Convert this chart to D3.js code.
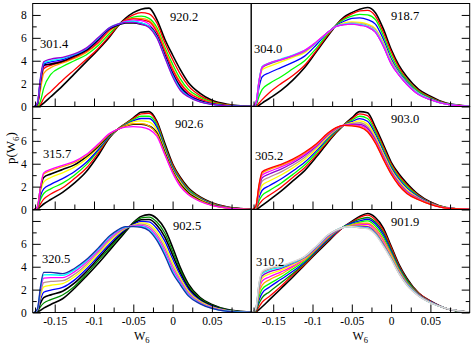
<!DOCTYPE html>
<html>
<head>
<meta charset="utf-8">
<script src="https://cdn.jsdelivr.net/npm/d3@7"></script>
<style>
  body { margin: 0; background: #fff; }
  svg { display: block; }
  text { font-family: "Liberation Serif", "Times New Roman", serif; fill: #000; }
</style>
</head>
<body>
<svg id="chart" width="474" height="345"></svg>
<script>
// W6 sample points shared by every curve
const W6 = [-0.176, -0.172, -0.168, -0.164, -0.155, -0.14, -0.125, -0.11, -0.095, -0.08, -0.07, -0.06,
            -0.05, -0.04, -0.03, -0.02, -0.01, 0, 0.01, 0.02, 0.035, 0.05, 0.07, 0.1];

const xMajor = [-0.15, -0.1, -0.05, 0, 0.05];
const xMajorLabels = ["-0.15", "-0.1", "-0.05", "0", "0.05"];
const xMinor = [-0.175, -0.125, -0.075, -0.025, 0.025, 0.075];
const yMajor = [0, 2, 4, 6, 8];
const yMinor = [1, 3, 5, 7];

// panel texts: [left label, right label]
const P1_TEXT = ["301.4", "920.2"];
const P2_TEXT = ["304.0", "918.7"];
const P3_TEXT = ["315.7", "902.6"];
const P4_TEXT = ["305.2", "903.0"];
const P5_TEXT = ["320.5", "902.5"];
const P6_TEXT = ["310.2", "901.9"];

// p(W6) curves, one row per set
const P1_VALUES = [
  [0,0,0.1,0.3,0.85,1.8,2.85,3.9,4.95,6.1,7.0,7.7,8.2,8.5,8.6,7.6,5.9,4.5,3.2,2.1,1.15,0.55,0.2,0.02],
  [0,0,0.2,0.7,1.3,2.3,3.2,4.1,5.05,6.2,7.0,7.6,8.0,8.2,8.1,7.3,5.6,4.1,2.8,1.8,0.95,0.45,0.15,0.01],
  [0,0,0.5,1.6,2.8,3.5,4.0,4.5,5.3,6.4,7.05,7.5,7.8,7.9,7.7,6.9,5.2,3.7,2.4,1.5,0.8,0.38,0.12,0.01],
  [0,0.1,1.5,2.9,3.4,3.8,4.2,4.7,5.5,6.6,7.1,7.5,7.7,7.7,7.5,6.7,5.0,3.4,2.1,1.3,0.7,0.32,0.1,0],
  [0,0.15,2.0,3.3,3.6,3.9,4.3,4.8,5.6,6.7,7.1,7.5,7.65,7.6,7.4,6.5,4.8,3.2,2.0,1.2,0.65,0.3,0.09,0],
  [0,0.2,2.2,3.5,3.75,4.0,4.4,4.9,5.7,6.8,7.15,7.45,7.55,7.5,7.2,6.3,4.6,3.0,1.8,1.1,0.55,0.25,0.07,0],
  [0,0.2,2.3,3.6,3.7,3.95,4.4,4.9,5.8,6.8,7.1,7.3,7.3,7.2,7.0,6.2,4.5,2.9,1.7,1.0,0.5,0.22,0.06,0],
  [0,0.25,2.4,3.7,3.9,4.1,4.5,5.0,5.9,6.85,7.15,7.35,7.4,7.3,7.0,6.1,4.4,2.8,1.55,0.95,0.45,0.2,0.05,0],
  [0,0.3,2.5,3.8,4.0,4.2,4.55,5.05,5.95,6.9,7.2,7.4,7.45,7.3,7.0,6.1,4.35,2.7,1.5,0.9,0.42,0.18,0.05,0],
  [0,0.3,2.6,3.9,4.15,4.3,4.6,5.1,6.0,6.9,7.2,7.35,7.35,7.2,6.9,6.0,4.3,2.6,1.4,0.85,0.4,0.18,0.05,0]
];
const P1_COLORS = ["#000000", "#ff0000", "#00ff00", "#ffa500", "#ff0000", "#ff00ff", "#000000", "#0000ff", "#00ffff", "#9400d3"];

const P2_VALUES = [
  [0,0,0.1,0.3,0.7,1.4,2.3,3.4,4.8,6.2,7.1,7.8,8.2,8.5,8.65,8.2,6.8,5.0,3.6,2.6,1.5,0.9,0.3,0.02],
  [0,0.05,0.3,0.6,1.2,2.0,2.7,3.6,4.9,6.3,7.1,7.7,8.1,8.35,8.4,7.9,6.5,4.8,3.4,2.4,1.4,0.8,0.27,0.02],
  [0,0.1,0.9,1.5,2.0,2.6,3.3,4.0,5.1,6.4,7.1,7.6,7.9,8.05,8.0,7.6,6.2,4.5,3.2,2.3,1.3,0.75,0.25,0.01],
  [0,0.15,1.7,2.6,2.95,3.4,3.85,4.4,5.4,6.5,7.05,7.45,7.7,7.75,7.6,7.2,5.9,4.2,3.0,2.15,1.2,0.7,0.23,0.01],
  [0,0.25,2.1,3.2,3.5,3.9,4.3,4.7,5.6,6.5,7.0,7.3,7.4,7.35,7.2,6.8,5.6,4.0,2.9,2.05,1.15,0.65,0.21,0.01],
  [0,0.3,2.2,3.4,3.7,4.05,4.4,4.8,5.6,6.5,7.0,7.2,7.3,7.25,7.1,6.7,5.5,3.9,2.85,2.0,1.1,0.62,0.2,0.01],
  [0,0.3,2.3,3.5,3.8,4.1,4.45,4.85,5.65,6.5,7.0,7.2,7.25,7.2,7.0,6.6,5.4,3.8,2.8,2.0,1.1,0.6,0.2,0.01],
  [0,0.3,2.2,3.4,3.75,4.1,4.45,4.85,5.6,6.5,7.0,7.15,7.2,7.15,6.95,6.5,5.3,3.75,2.75,1.95,1.05,0.6,0.2,0.01],
  [0,0.3,2.3,3.5,3.8,4.15,4.5,4.9,5.6,6.5,7.0,7.2,7.25,7.15,7.0,6.55,5.35,3.8,2.8,2.0,1.1,0.6,0.2,0.01],
  [0,0.3,2.25,3.45,3.8,4.1,4.45,4.9,5.65,6.5,7.0,7.15,7.2,7.1,6.95,6.5,5.3,3.75,2.75,1.95,1.05,0.6,0.2,0.01]
];
const P2_COLORS = ["#000000", "#ff0000", "#00ff00", "#0000ff", "#ffff00", "#bc8f8f", "#dcdcdc", "#9400d3", "#00ffff", "#ff00ff"];

const P3_VALUES = [
  [0,0.05,0.25,0.48,0.87,1.5,2.3,3.3,4.7,6.3,7.0,7.5,8.0,8.5,8.55,7.7,5.8,4.0,2.8,1.9,1.1,0.6,0.22,0.02],
  [0,0.05,0.5,0.9,1.35,1.9,2.7,3.6,4.9,6.35,7.0,7.5,7.95,8.35,8.4,7.6,5.6,3.9,2.7,1.8,1.05,0.55,0.2,0.02],
  [0,0.1,0.9,1.4,1.8,2.3,3.0,3.9,5.1,6.4,7.0,7.45,7.85,8.15,8.15,7.4,5.5,3.75,2.6,1.75,1.0,0.52,0.19,0.02],
  [0,0.1,1.2,1.8,2.2,2.7,3.3,4.1,5.2,6.45,7.0,7.4,7.75,7.95,7.95,7.2,5.35,3.65,2.5,1.65,0.95,0.5,0.18,0.01],
  [0,0.15,1.6,2.4,2.8,3.2,3.7,4.4,5.4,6.5,7.0,7.35,7.65,7.75,7.65,6.95,5.2,3.5,2.4,1.55,0.9,0.45,0.16,0.01],
  [0,0.2,1.9,2.8,3.1,3.5,3.9,4.6,5.5,6.55,7.0,7.3,7.45,7.45,7.3,6.7,5.0,3.35,2.2,1.45,0.8,0.4,0.14,0.01],
  [0,0.2,2.0,3.1,3.4,3.75,4.1,4.7,5.6,6.6,7.0,7.3,7.5,7.5,7.3,6.6,4.9,3.3,2.1,1.35,0.75,0.37,0.13,0.01],
  [0,0.2,2.0,3.2,3.5,3.85,4.2,4.8,5.7,6.65,7.0,7.2,7.25,7.2,7.0,6.4,4.8,3.2,2.0,1.3,0.7,0.35,0.12,0.01]
];
const P3_COLORS = ["#000000", "#ff0000", "#00ff00", "#0000ff", "#ffff00", "#000000", "#ffa500", "#ff00ff"];

const P4_VALUES = [
  [0,0.02,0.15,0.36,0.82,1.6,2.5,3.4,4.6,5.9,6.7,7.4,8.0,8.55,8.45,7.2,5.7,4.15,3.1,2.3,1.3,0.65,0.18,0.01],
  [0,0.06,0.46,0.8,1.24,1.95,2.8,3.65,4.77,6.0,6.77,7.4,7.9,8.35,8.2,7.0,5.5,4.0,2.95,2.15,1.23,0.62,0.17,0.01],
  [0,0.1,0.77,1.24,1.65,2.3,3.07,3.88,4.95,6.14,6.84,7.38,7.79,8.15,7.95,6.78,5.31,3.83,2.8,2.03,1.16,0.59,0.16,0.01],
  [0,0.15,1.07,1.68,2.07,2.66,3.36,4.12,5.12,6.26,6.9,7.38,7.68,7.94,7.71,6.57,5.11,3.68,2.65,1.89,1.1,0.56,0.15,0.01],
  [0,0.19,1.38,2.12,2.49,3.01,3.64,4.36,5.29,6.38,6.97,7.37,7.58,7.74,7.46,6.36,4.92,3.52,2.5,1.76,1.03,0.53,0.14,0.01],
  [0,0.22,1.63,2.48,2.82,3.29,3.87,4.55,5.43,6.48,7.02,7.36,7.5,7.58,7.26,6.19,4.76,3.39,2.38,1.65,0.98,0.51,0.14,0.01],
  [0,0.25,1.83,2.77,3.1,3.53,4.06,4.71,5.54,6.56,7.07,7.36,7.43,7.44,7.1,6.05,4.63,3.29,2.28,1.56,0.93,0.49,0.13,0.01],
  [0,0.27,2.0,3.01,3.32,3.72,4.21,4.84,5.64,6.62,7.11,7.36,7.37,7.33,6.96,5.94,4.53,3.2,2.2,1.49,0.89,0.47,0.13,0.01],
  [0,0.29,2.12,3.18,3.49,3.86,4.32,4.94,5.7,6.67,7.13,7.35,7.33,7.25,6.87,5.86,4.45,3.14,2.14,1.44,0.87,0.46,0.12,0.01],
  [0,0.3,2.2,3.3,3.6,3.95,4.4,5.0,5.75,6.7,7.15,7.35,7.3,7.2,6.8,5.8,4.4,3.1,2.1,1.4,0.85,0.45,0.12,0.01]
];
const P4_COLORS = ["#000000", "#ff0000", "#00ff00", "#0000ff", "#ffff00", "#bc8f8f", "#9400d3", "#ff00ff", "#ffa500", "#ff0000"];

const P5_VALUES = [
  [0,0.05,0.2,0.38,0.7,1.2,2.1,3.15,4.26,5.45,6.25,7.05,7.85,8.4,8.55,8.2,7.3,5.7,3.9,2.5,1.3,0.7,0.25,0.02],
  [0,0.09,0.52,0.82,1.12,1.53,2.28,3.33,4.5,5.64,6.44,7.16,7.8,8.26,8.34,7.91,6.95,5.36,3.67,2.34,1.22,0.65,0.23,0.02],
  [0,0.13,0.83,1.3,1.54,1.86,2.56,3.55,4.69,5.83,6.57,7.22,7.74,8.11,8.13,7.63,6.61,5.02,3.45,2.18,1.13,0.59,0.2,0.02],
  [0,0.16,1.15,1.77,1.96,2.19,2.83,3.78,4.89,6.01,6.71,7.28,7.69,7.97,7.92,7.34,6.26,4.69,3.22,2.03,1.05,0.54,0.18,0.01],
  [0,0.2,1.46,2.24,2.38,2.52,3.11,4.0,5.08,6.2,6.84,7.34,7.64,7.83,7.71,7.06,5.92,4.35,3.0,1.87,0.97,0.49,0.16,0.01],
  [0,0.23,1.71,2.62,2.72,2.78,3.33,4.18,5.24,6.35,6.95,7.39,7.6,7.72,7.54,6.83,5.64,4.08,2.82,1.74,0.9,0.45,0.14,0.01],
  [0,0.26,1.96,3.0,3.05,3.05,3.55,4.36,5.39,6.5,7.06,7.44,7.56,7.6,7.37,6.6,5.37,3.81,2.64,1.62,0.84,0.41,0.12,0.01],
  [0,0.28,2.15,3.28,3.3,3.25,3.72,4.5,5.51,6.61,7.14,7.47,7.52,7.52,7.25,6.43,5.16,3.61,2.5,1.52,0.79,0.37,0.11,0.01],
  [0,0.3,2.3,3.5,3.5,3.4,3.85,4.6,5.6,6.7,7.2,7.5,7.5,7.45,7.15,6.3,5.0,3.45,2.4,1.45,0.75,0.35,0.1,0]
];
const P5_COLORS = ["#000000", "#008b00", "#000000", "#0000ff", "#ffff00", "#bc8f8f", "#ff00ff", "#00ffff", "#1c2aa8"];

const P6_VALUES = [
  [0,0.05,0.25,0.5,1.1,2.1,3.1,4.15,5.2,6.2,6.9,7.5,7.95,8.4,8.65,8.3,7.4,5.8,4.2,3.0,1.7,1.0,0.35,0.03],
  [0,0.1,0.5,0.9,1.4,2.3,3.3,4.2,5.3,6.3,6.9,7.5,7.9,8.3,8.5,8.1,7.2,5.7,4.1,2.9,1.7,1.0,0.35,0.03],
  [0,0.15,0.8,1.3,1.8,2.6,3.4,4.3,5.35,6.35,7.0,7.5,7.85,8.15,8.3,7.9,7.0,5.5,4.0,2.85,1.65,0.95,0.35,0.03],
  [0,0.2,1.1,1.7,2.2,2.9,3.6,4.4,5.4,6.4,7.0,7.5,7.8,8.0,8.15,7.75,6.8,5.35,3.9,2.75,1.6,0.95,0.35,0.03],
  [0,0.25,1.4,2.05,2.5,3.1,3.8,4.5,5.5,6.5,7.05,7.5,7.7,7.9,8.0,7.55,6.6,5.2,3.8,2.7,1.55,0.92,0.35,0.03],
  [0,0.27,1.7,2.4,2.85,3.35,3.95,4.6,5.55,6.55,7.1,7.45,7.65,7.8,7.8,7.35,6.4,5.1,3.7,2.6,1.55,0.9,0.35,0.03],
  [0,0.3,1.95,2.75,3.1,3.55,4.05,4.7,5.65,6.65,7.1,7.45,7.6,7.7,7.7,7.2,6.25,4.95,3.6,2.55,1.5,0.9,0.35,0.03],
  [0,0.33,2.1,3.0,3.35,3.7,4.2,4.75,5.7,6.7,7.15,7.45,7.6,7.6,7.55,7.1,6.1,4.9,3.55,2.5,1.5,0.88,0.35,0.03],
  [0,0.35,2.3,3.2,3.55,3.85,4.3,4.8,5.7,6.7,7.15,7.45,7.55,7.55,7.5,7.0,6.0,4.8,3.5,2.5,1.5,0.87,0.35,0.02],
  [0,0.38,2.45,3.4,3.7,3.95,4.35,4.85,5.75,6.75,7.2,7.45,7.5,7.45,7.4,6.9,5.9,4.75,3.45,2.45,1.47,0.86,0.35,0.02],
  [0,0.4,2.55,3.5,3.8,4.05,4.4,4.9,5.8,6.8,7.2,7.45,7.5,7.4,7.35,6.85,5.85,4.7,3.4,2.4,1.45,0.85,0.35,0.02],
  [0,0.4,2.6,3.6,3.9,4.1,4.45,4.9,5.8,6.8,7.2,7.45,7.5,7.4,7.3,6.8,5.8,4.65,3.4,2.4,1.45,0.85,0.35,0.02]
];
const P6_COLORS = ["#000000", "#ff0000", "#008b00", "#0000ff", "#00ff00", "#ffa500", "#ff00ff", "#ffff00", "#9400d3", "#00ffff", "#bc8f8f", "#dcdcdc"];

// ---- layout ----
const svg = d3.select("#chart");
const colLeft = [32.7, 251.2];
const panelW = 218.5;
const rowTop = [3.5, 106.5, 209.5];
const panelH = 103;

const panels = [
  { col: 0, row: 0, text: P1_TEXT, values: P1_VALUES, colors: P1_COLORS, pos: [[40, 48], [170, 21]] },
  { col: 1, row: 0, text: P2_TEXT, values: P2_VALUES, colors: P2_COLORS, pos: [[254, 53], [391, 20]] },
  { col: 0, row: 1, text: P3_TEXT, values: P3_VALUES, colors: P3_COLORS, pos: [[43, 158], [175, 128]] },
  { col: 1, row: 1, text: P4_TEXT, values: P4_VALUES, colors: P4_COLORS, pos: [[255, 160], [391, 123]] },
  { col: 0, row: 2, text: P5_TEXT, values: P5_VALUES, colors: P5_COLORS, pos: [[42, 263], [173, 230]] },
  { col: 1, row: 2, text: P6_TEXT, values: P6_VALUES, colors: P6_COLORS, pos: [[256, 266], [391, 226]] }
];

const defs = svg.append("defs");

panels.forEach((p, pi) => {
  const x0 = colLeft[p.col], y0 = rowTop[p.row];
  const x = d3.scaleLinear().domain([-0.178, 0.1]).range([x0, x0 + panelW]);
  const y = d3.scaleLinear().domain([0, 9]).range([y0 + panelH, y0]);

  const clipId = `clip${pi}`;
  defs.append("clipPath").attr("id", clipId)
    .append("rect").attr("x", x0).attr("y", y0).attr("width", panelW).attr("height", panelH);

  const line = d3.line()
    .x((d, i) => x(W6[i]))
    .y(d => y(d))
    .curve(d3.curveMonotoneX);

  const g = svg.append("g").attr("clip-path", `url(#${clipId})`);
  p.values.forEach((vals, ci) => {
    g.append("path")
      .attr("d", line(vals))
      .attr("fill", "none")
      .attr("stroke", p.colors[ci])
      .attr("stroke-width", p.colors[ci] === "#000000" ? 1.6 : 1.3)
      .attr("stroke-linejoin", "round");
  });

  // x ticks (inward) on the bottom edge
  const bottom = svg.append("g").attr("transform", `translate(0,${y0 + panelH})`);
  bottom.call(d3.axisBottom(x).tickValues(xMajor).tickSizeInner(-8).tickSizeOuter(0).tickPadding(4)
      .tickFormat((d, i) => p.row === 2 ? xMajorLabels[i] : ""));
  bottom.append("g").call(d3.axisBottom(x).tickValues(xMinor).tickSizeInner(-5).tickSizeOuter(0).tickFormat(""));

  // y ticks on the outer edge
  const yg = svg.append("g");
  if (p.col === 0) {
    yg.attr("transform", `translate(${x0},0)`)
      .call(d3.axisLeft(y).tickValues(yMajor).tickSizeInner(-8).tickSizeOuter(0).tickPadding(6)
        .tickFormat(d => (p.row === 0 || d < 8) ? d : ""));
    yg.append("g").call(d3.axisLeft(y).tickValues(yMinor).tickSizeInner(-4).tickSizeOuter(0).tickFormat(""));
  } else {
    yg.attr("transform", `translate(${x0 + panelW},0)`)
      .call(d3.axisRight(y).tickValues(yMajor).tickSizeInner(-8).tickSizeOuter(0).tickFormat(""));
    yg.append("g").call(d3.axisRight(y).tickValues(yMinor).tickSizeInner(-4).tickSizeOuter(0).tickFormat(""));
  }

  // frame
  svg.append("rect").attr("x", x0).attr("y", y0).attr("width", panelW).attr("height", panelH)
    .attr("fill", "none").attr("stroke", "#000").attr("stroke-width", 1);

  // temperature labels
  p.text.forEach((t, k) => {
    svg.append("text").attr("x", p.pos[k][0]).attr("y", p.pos[k][1])
      .attr("font-size", 12.5).text(t);
  });
});

svg.selectAll(".domain").remove();
svg.selectAll(".tick line").attr("stroke", "#000").attr("stroke-width", 1);
svg.selectAll(".tick text").attr("font-size", 11.5).attr("font-family", "Liberation Serif, Times New Roman, serif").attr("fill", "#000");

// axis titles
[0, 1].forEach(c => {
  const cx = colLeft[c] + panelW / 2;
  const t = svg.append("text").attr("x", cx - 8).attr("y", 339.5).attr("font-size", 12);
  t.append("tspan").text("W");
  t.append("tspan").attr("font-size", 8.5).attr("dy", 3).text("6");
});

const yt = svg.append("text")
  .attr("transform", "translate(15,148) rotate(-90)")
  .attr("text-anchor", "middle").attr("font-size", 13);
yt.append("tspan").text("p(W");
yt.append("tspan").attr("font-size", 9).attr("dy", 4).text("6");
yt.append("tspan").attr("dy", -4).text(")");
</script>
</body>
</html>
